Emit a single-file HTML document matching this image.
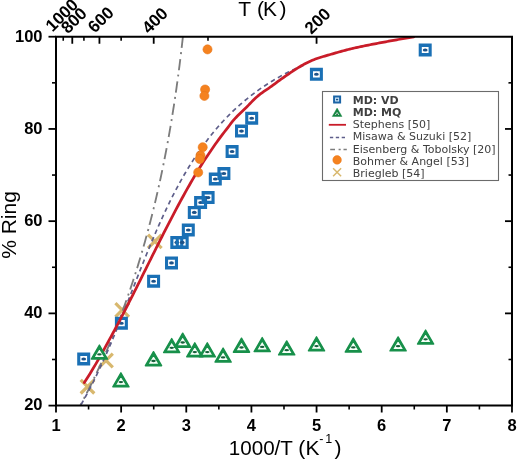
<!DOCTYPE html><html><head><meta charset="utf-8"><title>% Ring vs 1000/T</title><style>html,body{margin:0;padding:0;background:#fff;width:520px;height:461px;overflow:hidden}svg{display:block}</style></head><body><svg width="520" height="461" viewBox="0 0 520 461"><rect width="520" height="461" fill="#ffffff"/><clipPath id="c"><rect x="56.0" y="36.75" width="456.0" height="368.75"/></clipPath><path d="M80.7,379.9 L94.3,393.5 M80.7,393.5 L94.3,379.9" stroke="#d8b86e" stroke-width="3.2" fill="none"/><path d="M99.2,353.7 L112.8,367.3 M99.2,367.3 L112.8,353.7" stroke="#d8b86e" stroke-width="3.2" fill="none"/><path d="M115.4,303.2 L129,316.8 M115.4,316.8 L129,303.2" stroke="#d8b86e" stroke-width="3.2" fill="none"/><path d="M148,234.6 L161.6,248.2 M148,248.2 L161.6,234.6" stroke="#d8b86e" stroke-width="3.2" fill="none"/><path d="M77.2,352.5h13v13h-13ZM80.3,355.9v6.2h6.8v-6.2Z" fill="#1a70b5" fill-rule="evenodd"/><ellipse cx="83.7" cy="359" rx="2.4" ry="1.55" fill="#1d5288"/><path d="M114.9,316.7h13v13h-13ZM118,320.1v6.2h6.8v-6.2Z" fill="#1a70b5" fill-rule="evenodd"/><ellipse cx="121.4" cy="323.2" rx="2.4" ry="1.55" fill="#1d5288"/><path d="M147.1,274.7h13v13h-13ZM150.2,278.1v6.2h6.8v-6.2Z" fill="#1a70b5" fill-rule="evenodd"/><ellipse cx="153.6" cy="281.2" rx="2.4" ry="1.55" fill="#1d5288"/><path d="M165,256.4h13v13h-13ZM168.1,259.8v6.2h6.8v-6.2Z" fill="#1a70b5" fill-rule="evenodd"/><ellipse cx="171.5" cy="262.9" rx="2.4" ry="1.55" fill="#1d5288"/><path d="M170.3,235.9h13v13h-13ZM173.4,239.3v6.2h6.8v-6.2Z" fill="#1a70b5" fill-rule="evenodd"/><ellipse cx="176.8" cy="242.4" rx="2.4" ry="1.55" fill="#1d5288"/><path d="M175.7,235.9h13v13h-13ZM178.8,239.3v6.2h6.8v-6.2Z" fill="#1a70b5" fill-rule="evenodd"/><ellipse cx="182.2" cy="242.4" rx="2.4" ry="1.55" fill="#1d5288"/><path d="M181.8,223.5h13v13h-13ZM184.9,226.9v6.2h6.8v-6.2Z" fill="#1a70b5" fill-rule="evenodd"/><ellipse cx="188.3" cy="230" rx="2.4" ry="1.55" fill="#1d5288"/><path d="M187.8,205.9h13v13h-13ZM190.9,209.3v6.2h6.8v-6.2Z" fill="#1a70b5" fill-rule="evenodd"/><ellipse cx="194.3" cy="212.4" rx="2.4" ry="1.55" fill="#1d5288"/><path d="M194.1,196h13v13h-13ZM197.2,199.4v6.2h6.8v-6.2Z" fill="#1a70b5" fill-rule="evenodd"/><ellipse cx="200.6" cy="202.5" rx="2.4" ry="1.55" fill="#1d5288"/><path d="M201.6,191.1h13v13h-13ZM204.7,194.5v6.2h6.8v-6.2Z" fill="#1a70b5" fill-rule="evenodd"/><ellipse cx="208.1" cy="197.6" rx="2.4" ry="1.55" fill="#1d5288"/><path d="M208.8,172.5h13v13h-13ZM211.9,175.9v6.2h6.8v-6.2Z" fill="#1a70b5" fill-rule="evenodd"/><ellipse cx="215.3" cy="179" rx="2.4" ry="1.55" fill="#1d5288"/><path d="M217.4,167h13v13h-13ZM220.5,170.4v6.2h6.8v-6.2Z" fill="#1a70b5" fill-rule="evenodd"/><ellipse cx="223.9" cy="173.5" rx="2.4" ry="1.55" fill="#1d5288"/><path d="M225.6,145h13v13h-13ZM228.7,148.4v6.2h6.8v-6.2Z" fill="#1a70b5" fill-rule="evenodd"/><ellipse cx="232.1" cy="151.5" rx="2.4" ry="1.55" fill="#1d5288"/><path d="M235,124.6h13v13h-13ZM238.1,128v6.2h6.8v-6.2Z" fill="#1a70b5" fill-rule="evenodd"/><ellipse cx="241.5" cy="131.1" rx="2.4" ry="1.55" fill="#1d5288"/><path d="M245.2,111.7h13v13h-13ZM248.3,115.1v6.2h6.8v-6.2Z" fill="#1a70b5" fill-rule="evenodd"/><ellipse cx="251.7" cy="118.2" rx="2.4" ry="1.55" fill="#1d5288"/><path d="M309.9,67.8h13v13h-13ZM313,71.2v6.2h6.8v-6.2Z" fill="#1a70b5" fill-rule="evenodd"/><ellipse cx="316.4" cy="74.3" rx="2.4" ry="1.55" fill="#1d5288"/><path d="M418.7,43.5h13v13h-13ZM421.8,46.9v6.2h6.8v-6.2Z" fill="#1a70b5" fill-rule="evenodd"/><ellipse cx="425.2" cy="50" rx="2.4" ry="1.55" fill="#1d5288"/><g clip-path="url(#c)" fill="none" stroke-linecap="butt"><polyline points="182.89,36.79 182.63,39.18 182.36,41.58 182.09,43.98 181.82,46.38 181.54,48.77 181.26,51.17 180.97,53.57 180.68,55.97 180.39,58.37 180.1,60.76 179.8,63.16 179.5,65.56 179.19,67.96 178.88,70.35 178.57,72.75 178.25,75.15 177.93,77.54 177.6,79.94 177.28,82.34 176.94,84.73 176.61,87.13 176.27,89.52 175.92,91.92 175.57,94.31 175.22,96.71 174.87,99.1 174.51,101.49 174.14,103.89 173.77,106.28 173.4,108.67 173.02,111.06 172.64,113.45 172.26,115.84 171.87,118.23 171.48,120.62 171.08,123.01 170.68,125.4 170.27,127.79 169.86,130.17 169.44,132.56 169.02,134.94 168.6,137.33 168.17,139.71 167.74,142.09 167.3,144.48 166.86,146.86 166.41,149.24 165.96,151.62 165.5,153.99 165.04,156.37 164.57,158.75 164.1,161.12 163.63,163.5 163.15,165.87 162.66,168.25 162.17,170.62 161.68,172.99 161.18,175.36 160.68,177.72 160.17,180.09 159.65,182.46 159.13,184.82 158.61,187.19 158.08,189.55 157.54,191.91 157,194.27 156.46,196.63 155.91,198.99 155.35,201.34 154.79,203.7 154.23,206.05 153.66,208.4 153.08,210.75 152.5,213.1 151.91,215.45 151.32,217.79 150.72,220.14 150.11,222.48 149.51,224.82 148.89,227.16 148.27,229.5 147.64,231.84 147.01,234.17 146.38,236.5 145.73,238.84 145.08,241.17 144.43,243.49 143.77,245.82 143.1,248.14 142.43,250.47 141.76,252.79 141.07,255.11 140.38,257.42 139.69,259.74 138.99,262.05 138.28,264.37 137.57,266.68 136.85,268.98 136.12,271.29 135.39,273.59 134.65,275.89 133.91,278.19 133.16,280.49 132.4,282.79 131.64,285.08 130.87,287.37 130.1,289.66 129.32,291.95 128.53,294.23 127.74,296.51 126.94,298.79 126.13,301.07 125.32,303.35 124.5,305.62 123.67,307.89 122.84,310.16 122,312.43 121.16,314.69 120.3,316.95 119.44,319.21 118.58,321.47 117.71,323.72 116.83,325.97 115.94,328.22 115.05,330.47 114.15,332.71 113.24,334.96 112.33,337.19 111.41,339.43 110.48,341.66 109.55,343.89 108.61,346.12 107.66,348.35 106.7,350.57 105.74,352.79 104.77,355.01 103.8,357.22 102.81,359.43 101.82,361.64 100.83,363.85 99.82,366.05 98.81,368.25 97.79,370.45 96.76,372.64 95.73,374.83 94.68,377.02 93.64,379.2 92.58,381.39 91.52,383.56 90.44,385.74 89.36,387.91 88.28,390.08 87.18,392.25 86.08,394.41 84.97,396.57 83.86,398.73 82.73,400.88 81.6,403.03 80.46,405.18" stroke="#7c7c7c" stroke-width="1.85" stroke-dasharray="11.2 4.3 2 5"/><polyline points="81,404.68 82.27,402.46 83.53,400.22 84.77,397.98 86.01,395.72 87.23,393.46 88.44,391.19 89.64,388.91 90.82,386.62 92,384.32 93.17,382.01 94.32,379.69 95.47,377.37 96.6,375.03 97.73,372.69 98.85,370.34 99.95,367.99 101.05,365.63 102.14,363.26 103.23,360.88 104.3,358.5 105.37,356.11 106.43,353.71 107.49,351.31 108.53,348.9 109.57,346.49 110.61,344.07 111.64,341.65 112.66,339.22 113.68,336.78 114.7,334.34 115.7,331.9 116.71,329.45 117.71,327 118.71,324.55 119.7,322.09 120.69,319.62 121.68,317.16 122.66,314.69 123.65,312.22 124.63,309.74 125.61,307.27 126.58,304.79 127.56,302.3 128.53,299.82 129.51,297.33 130.48,294.85 131.46,292.36 132.43,289.87 133.41,287.38 134.38,284.88 135.36,282.39 136.34,279.9 137.32,277.41 138.3,274.91 139.29,272.42 140.27,269.93 141.26,267.43 142.26,264.94 143.25,262.45 144.25,259.96 145.26,257.48 146.26,254.99 147.28,252.5 148.29,250.02 149.32,247.54 150.34,245.06 151.38,242.59 152.42,240.11 153.46,237.65 154.52,235.18 155.57,232.72 156.64,230.26 157.71,227.81 158.8,225.36 159.89,222.92 160.98,220.48 162.09,218.05 163.2,215.62 164.33,213.2 165.46,210.79 166.6,208.38 167.76,205.98 168.92,203.59 170.09,201.2 171.28,198.83 172.47,196.46 173.68,194.1 174.9,191.74 176.13,189.4 177.37,187.07 178.63,184.74 179.9,182.43 181.18,180.12 182.47,177.83 183.78,175.54 185.1,173.27 186.44,171 187.79,168.75 189.16,166.51 190.54,164.29 191.94,162.07 193.35,159.87 194.78,157.68 196.22,155.5 197.68,153.34 199.16,151.19 200.65,149.05 202.16,146.93 203.69,144.82 205.24,142.73 206.81,140.65 208.39,138.59 210,136.54 211.62,134.51 213.26,132.49 214.92,130.49 216.6,128.51 218.3,126.55 220.03,124.6 221.77,122.67 223.53,120.75 225.32,118.86 227.12,116.98 228.95,115.12 230.8,113.28 232.68,111.46 234.57,109.66 236.49,107.88 238.43,106.12 240.39,104.38 242.37,102.66 244.38,100.96 246.4,99.28 248.45,97.63 250.52,95.99 252.61,94.38 254.72,92.79 256.86,91.22 259.01,89.68 261.19,88.16 263.38,86.66 265.6,85.19 267.84,83.74 270.1,82.31 272.39,80.91 274.69,79.54 277.02,78.19 279.36,76.87 281.73,75.57 284.11,74.3 286.52,73.05 288.95,71.83 291.4,70.64 293.87,69.48 296.36,68.34 298.87,67.24 301.4,66.16 303.96,65.11 306.53,64.09" stroke="#5e5e8a" stroke-width="1.7" stroke-dasharray="4.6 3.5"/><polyline points="84.36,382.58 86.13,379.81 87.9,377 89.67,374.15 91.44,371.26 93.21,368.32 94.97,365.35 96.74,362.33 98.51,359.27 100.27,356.18 102.04,353.05 103.8,349.87 105.56,346.67 107.33,343.43 109.09,340.15 110.91,336.84 112.73,333.5 114.55,330.13 116.37,326.72 118.19,323.3 120.01,319.84 121.83,316.36 123.65,312.85 125.47,309.33 127.29,305.78 129.11,302.22 130.93,298.63 132.75,295.03 134.57,291.42 136.39,287.8 138.21,284.16 140.03,280.52 141.85,276.87 143.67,273.22 145.49,269.56 147.31,265.9 149.13,262.24 150.95,258.59 152.77,254.93 154.59,251.29 156.41,247.65 158.23,244.03 160.05,240.41 161.87,236.81 163.69,233.22 165.52,229.65 167.34,226.1 169.16,222.57 170.98,219.06 172.8,215.57 174.62,212.11 176.44,208.67 178.26,205.26 180.08,201.88 181.9,198.53 183.72,195.22 185.54,191.93 187.36,188.68 189.18,185.47 191,182.29 192.82,179.14 194.64,176.04 196.46,172.97 198.28,169.94 200.15,166.96 202.02,164.01 203.88,161.11 205.75,158.25 207.62,155.43 209.48,152.65 211.34,149.92 213.21,147.23 215.07,144.58 216.93,141.98 218.79,139.43 220.65,136.92 222.51,134.45 224.37,132.03 226.23,129.65 228,127.31 229.56,125.2 231.12,123.13 232.68,121.16 234.25,119.36 235.81,117.67 237.37,116.06 238.93,114.51 240.49,113 242.05,111.51 243.61,110.02 245.17,108.51 246.74,106.96 248.3,105.38 249.86,103.77 251.42,102.16 252.98,100.57 254.54,99.03 256.1,97.55 257.67,96.17 259.23,94.89 260.79,93.7 262.35,92.57 263.91,91.46 265.47,90.37 267.03,89.32 268.59,88.27 270.16,87.19 271.72,86.07 273.28,84.93 274.84,83.78 276.4,82.62 277.96,81.47 279.52,80.32 281.09,79.19 282.65,78.09 284.21,77 285.77,75.92 287.33,74.85 288.89,73.79 290.45,72.73 292.02,71.67 293.58,70.61 295.14,69.57 296.7,68.59 298.26,67.64 299.82,66.7 301.38,65.78 302.94,64.89 304.51,64.03 306.07,63.21 307.63,62.43 309.19,61.7 310.75,60.99 312.31,60.32 313.87,59.68 315.44,59.08 317,58.52 318.56,57.99 320.12,57.49 321.68,57 323.24,56.54 324.8,56.08 326.36,55.64 327.93,55.19 329.49,54.75 331.05,54.3 332.61,53.84 334.17,53.39 335.73,52.94 337.29,52.49 338.86,52.04 340.42,51.6 341.98,51.17 343.54,50.74 345.1,50.31 346.66,49.9 348.22,49.5 349.78,49.11 351.35,48.73 352.91,48.36 354.47,48 356.03,47.65 357.59,47.31 359.15,46.97 360.71,46.64 362.28,46.31 363.84,45.99 365.4,45.68 366.96,45.37 368.52,45.06 370.08,44.76 371.64,44.46 373.21,44.16 374.77,43.86 376.33,43.56 377.89,43.27 379.45,42.97 381.01,42.68 382.57,42.38 384.13,42.08 385.7,41.79 387.26,41.5 388.82,41.21 390.38,40.93 391.94,40.64 393.5,40.36 395.06,40.08 396.63,39.8 398.19,39.52 399.75,39.24 401.31,38.97 402.87,38.69 404.43,38.42 405.99,38.14 407.55,37.87 409.12,37.6 410.68,37.33 412.24,37.07 413.8,36.8" stroke="#c91c29" stroke-width="2.75" stroke-linejoin="round" stroke-linecap="round"/></g><path d="M99.4,348.1L93.4,357.9L105.4,357.9Z" fill="#f6fff8"/><path d="M99.4,345.1L107.5,359.1L91.3,359.1ZM99.4,348.2L93.5,357.8L105.3,357.8Z" fill="#17904a" fill-rule="evenodd" stroke="#17904a" stroke-width="1.4" stroke-linejoin="round"/><ellipse cx="99.4" cy="354.4" rx="2.3" ry="1.15" fill="#16603a"/><path d="M120.9,375.8L114.9,385.6L126.9,385.6Z" fill="#f6fff8"/><path d="M120.9,372.8L129,386.8L112.8,386.8ZM120.9,375.9L115,385.5L126.8,385.5Z" fill="#17904a" fill-rule="evenodd" stroke="#17904a" stroke-width="1.4" stroke-linejoin="round"/><ellipse cx="120.9" cy="382.1" rx="2.3" ry="1.15" fill="#16603a"/><path d="M153.5,354.7L147.5,364.5L159.5,364.5Z" fill="#f6fff8"/><path d="M153.5,351.7L161.6,365.7L145.4,365.7ZM153.5,354.8L147.6,364.4L159.4,364.4Z" fill="#17904a" fill-rule="evenodd" stroke="#17904a" stroke-width="1.4" stroke-linejoin="round"/><ellipse cx="153.5" cy="361" rx="2.3" ry="1.15" fill="#16603a"/><path d="M171.7,341.5L165.7,351.3L177.7,351.3Z" fill="#f6fff8"/><path d="M171.7,338.5L179.8,352.5L163.6,352.5ZM171.7,341.6L165.8,351.2L177.6,351.2Z" fill="#17904a" fill-rule="evenodd" stroke="#17904a" stroke-width="1.4" stroke-linejoin="round"/><ellipse cx="171.7" cy="347.8" rx="2.3" ry="1.15" fill="#16603a"/><path d="M182.7,336.2L176.7,346L188.7,346Z" fill="#f6fff8"/><path d="M182.7,333.2L190.8,347.2L174.6,347.2ZM182.7,336.3L176.8,345.9L188.6,345.9Z" fill="#17904a" fill-rule="evenodd" stroke="#17904a" stroke-width="1.4" stroke-linejoin="round"/><ellipse cx="182.7" cy="342.5" rx="2.3" ry="1.15" fill="#16603a"/><path d="M194.8,345.8L188.8,355.6L200.8,355.6Z" fill="#f6fff8"/><path d="M194.8,342.8L202.9,356.8L186.7,356.8ZM194.8,345.9L188.9,355.5L200.7,355.5Z" fill="#17904a" fill-rule="evenodd" stroke="#17904a" stroke-width="1.4" stroke-linejoin="round"/><ellipse cx="194.8" cy="352.1" rx="2.3" ry="1.15" fill="#16603a"/><path d="M207.3,345.8L201.3,355.6L213.3,355.6Z" fill="#f6fff8"/><path d="M207.3,342.8L215.4,356.8L199.2,356.8ZM207.3,345.9L201.4,355.5L213.2,355.5Z" fill="#17904a" fill-rule="evenodd" stroke="#17904a" stroke-width="1.4" stroke-linejoin="round"/><ellipse cx="207.3" cy="352.1" rx="2.3" ry="1.15" fill="#16603a"/><path d="M223.1,351.1L217.1,360.9L229.1,360.9Z" fill="#f6fff8"/><path d="M223.1,348.1L231.2,362.1L215,362.1ZM223.1,351.2L217.2,360.8L229,360.8Z" fill="#17904a" fill-rule="evenodd" stroke="#17904a" stroke-width="1.4" stroke-linejoin="round"/><ellipse cx="223.1" cy="357.4" rx="2.3" ry="1.15" fill="#16603a"/><path d="M241.5,341.2L235.5,351L247.5,351Z" fill="#f6fff8"/><path d="M241.5,338.2L249.6,352.2L233.4,352.2ZM241.5,341.3L235.6,350.9L247.4,350.9Z" fill="#17904a" fill-rule="evenodd" stroke="#17904a" stroke-width="1.4" stroke-linejoin="round"/><ellipse cx="241.5" cy="347.5" rx="2.3" ry="1.15" fill="#16603a"/><path d="M262.2,340.6L256.2,350.4L268.2,350.4Z" fill="#f6fff8"/><path d="M262.2,337.6L270.3,351.6L254.1,351.6ZM262.2,340.7L256.3,350.3L268.1,350.3Z" fill="#17904a" fill-rule="evenodd" stroke="#17904a" stroke-width="1.4" stroke-linejoin="round"/><ellipse cx="262.2" cy="346.9" rx="2.3" ry="1.15" fill="#16603a"/><path d="M286.7,343.9L280.7,353.7L292.7,353.7Z" fill="#f6fff8"/><path d="M286.7,340.9L294.8,354.9L278.6,354.9ZM286.7,344L280.8,353.6L292.6,353.6Z" fill="#17904a" fill-rule="evenodd" stroke="#17904a" stroke-width="1.4" stroke-linejoin="round"/><ellipse cx="286.7" cy="350.2" rx="2.3" ry="1.15" fill="#16603a"/><path d="M316.5,339.8L310.5,349.6L322.5,349.6Z" fill="#f6fff8"/><path d="M316.5,336.8L324.6,350.8L308.4,350.8ZM316.5,339.9L310.6,349.5L322.4,349.5Z" fill="#17904a" fill-rule="evenodd" stroke="#17904a" stroke-width="1.4" stroke-linejoin="round"/><ellipse cx="316.5" cy="346.1" rx="2.3" ry="1.15" fill="#16603a"/><path d="M353.3,341.1L347.3,350.9L359.3,350.9Z" fill="#f6fff8"/><path d="M353.3,338.1L361.4,352.1L345.2,352.1ZM353.3,341.2L347.4,350.8L359.2,350.8Z" fill="#17904a" fill-rule="evenodd" stroke="#17904a" stroke-width="1.4" stroke-linejoin="round"/><ellipse cx="353.3" cy="347.4" rx="2.3" ry="1.15" fill="#16603a"/><path d="M398.1,339.9L392.1,349.7L404.1,349.7Z" fill="#f6fff8"/><path d="M398.1,336.9L406.2,350.9L390,350.9ZM398.1,340L392.2,349.6L404,349.6Z" fill="#17904a" fill-rule="evenodd" stroke="#17904a" stroke-width="1.4" stroke-linejoin="round"/><ellipse cx="398.1" cy="346.2" rx="2.3" ry="1.15" fill="#16603a"/><path d="M425.6,333L419.6,342.8L431.6,342.8Z" fill="#f6fff8"/><path d="M425.6,330L433.7,344L417.5,344ZM425.6,333.1L419.7,342.7L431.5,342.7Z" fill="#17904a" fill-rule="evenodd" stroke="#17904a" stroke-width="1.4" stroke-linejoin="round"/><ellipse cx="425.6" cy="339.3" rx="2.3" ry="1.15" fill="#16603a"/><circle cx="207.5" cy="49.4" r="4.55" fill="#f5821f" stroke="#e87618" stroke-width="0.6"/><circle cx="205.1" cy="89.5" r="4.55" fill="#f5821f" stroke="#e87618" stroke-width="0.6"/><circle cx="204.4" cy="95.9" r="4.55" fill="#f5821f" stroke="#e87618" stroke-width="0.6"/><circle cx="202.7" cy="147.2" r="4.55" fill="#f5821f" stroke="#e87618" stroke-width="0.6"/><circle cx="200.5" cy="155.5" r="4.55" fill="#f5821f" stroke="#e87618" stroke-width="0.6"/><circle cx="199.8" cy="159" r="4.55" fill="#f5821f" stroke="#e87618" stroke-width="0.6"/><circle cx="198.2" cy="172.4" r="4.55" fill="#f5821f" stroke="#e87618" stroke-width="0.6"/><g stroke="#000" fill="none"><rect x="56.0" y="36.75" width="456.0" height="368.75" stroke-width="2"/><line x1="56" y1="405.5" x2="56" y2="412.5" stroke-width="1.8"/><line x1="121.14" y1="405.5" x2="121.14" y2="412.5" stroke-width="1.8"/><line x1="186.28" y1="405.5" x2="186.28" y2="412.5" stroke-width="1.8"/><line x1="251.42" y1="405.5" x2="251.42" y2="412.5" stroke-width="1.8"/><line x1="316.56" y1="405.5" x2="316.56" y2="412.5" stroke-width="1.8"/><line x1="381.7" y1="405.5" x2="381.7" y2="412.5" stroke-width="1.8"/><line x1="446.84" y1="405.5" x2="446.84" y2="412.5" stroke-width="1.8"/><line x1="511.98" y1="405.5" x2="511.98" y2="412.5" stroke-width="1.8"/><line x1="88.57" y1="405.5" x2="88.57" y2="409.5" stroke-width="1.6"/><line x1="153.71" y1="405.5" x2="153.71" y2="409.5" stroke-width="1.6"/><line x1="218.85" y1="405.5" x2="218.85" y2="409.5" stroke-width="1.6"/><line x1="283.99" y1="405.5" x2="283.99" y2="409.5" stroke-width="1.6"/><line x1="349.13" y1="405.5" x2="349.13" y2="409.5" stroke-width="1.6"/><line x1="414.27" y1="405.5" x2="414.27" y2="409.5" stroke-width="1.6"/><line x1="479.41" y1="405.5" x2="479.41" y2="409.5" stroke-width="1.6"/><line x1="48.5" y1="405.6" x2="56.0" y2="405.6" stroke-width="1.8"/><line x1="48.5" y1="313.38" x2="56.0" y2="313.38" stroke-width="1.8"/><line x1="505.0" y1="313.38" x2="512.0" y2="313.38" stroke-width="1.8"/><line x1="48.5" y1="221.16" x2="56.0" y2="221.16" stroke-width="1.8"/><line x1="505.0" y1="221.16" x2="512.0" y2="221.16" stroke-width="1.8"/><line x1="48.5" y1="128.94" x2="56.0" y2="128.94" stroke-width="1.8"/><line x1="505.0" y1="128.94" x2="512.0" y2="128.94" stroke-width="1.8"/><line x1="48.5" y1="36.72" x2="56.0" y2="36.72" stroke-width="1.8"/><line x1="52.0" y1="359.49" x2="56.0" y2="359.49" stroke-width="1.6"/><line x1="508.5" y1="359.49" x2="512.0" y2="359.49" stroke-width="1.6"/><line x1="52.0" y1="267.27" x2="56.0" y2="267.27" stroke-width="1.6"/><line x1="508.5" y1="267.27" x2="512.0" y2="267.27" stroke-width="1.6"/><line x1="52.0" y1="175.05" x2="56.0" y2="175.05" stroke-width="1.6"/><line x1="508.5" y1="175.05" x2="512.0" y2="175.05" stroke-width="1.6"/><line x1="52.0" y1="82.83" x2="56.0" y2="82.83" stroke-width="1.6"/><line x1="508.5" y1="82.83" x2="512.0" y2="82.83" stroke-width="1.6"/><line x1="56" y1="36.75" x2="56" y2="43.75" stroke-width="1.8"/><line x1="72.28" y1="36.75" x2="72.28" y2="43.75" stroke-width="1.8"/><line x1="99.43" y1="36.75" x2="99.43" y2="43.75" stroke-width="1.8"/><line x1="153.71" y1="36.75" x2="153.71" y2="43.75" stroke-width="1.8"/><line x1="316.56" y1="36.75" x2="316.56" y2="43.75" stroke-width="1.8"/><line x1="63.24" y1="36.75" x2="63.24" y2="40.75" stroke-width="1.6"/><line x1="83.92" y1="36.75" x2="83.92" y2="40.75" stroke-width="1.6"/><line x1="121.14" y1="36.75" x2="121.14" y2="40.75" stroke-width="1.6"/><line x1="207.99" y1="36.75" x2="207.99" y2="40.75" stroke-width="1.6"/></g><g font-family="Liberation Sans, Arial, sans-serif" font-weight="bold" font-size="16.5" fill="#000"><text x="42.5" y="410.4" text-anchor="end">20</text><text x="42.5" y="318.18" text-anchor="end">40</text><text x="42.5" y="225.96" text-anchor="end">60</text><text x="42.5" y="133.74" text-anchor="end">80</text><text x="42.5" y="41.52" text-anchor="end">100</text><text x="56" y="431.3" text-anchor="middle">1</text><text x="121.14" y="431.3" text-anchor="middle">2</text><text x="186.28" y="431.3" text-anchor="middle">3</text><text x="251.42" y="431.3" text-anchor="middle">4</text><text x="316.56" y="431.3" text-anchor="middle">5</text><text x="381.7" y="431.3" text-anchor="middle">6</text><text x="446.84" y="431.3" text-anchor="middle">7</text><text x="511.98" y="431.3" text-anchor="middle">8</text></g><g font-family="Liberation Sans, Arial, sans-serif" font-weight="bold" font-size="17" fill="#000"><text transform="translate(52.5,32.5) rotate(-45)" x="0" y="0">1000</text><text transform="translate(67.9,34.5) rotate(-45)" x="0" y="0">800</text><text transform="translate(94.8,33.8) rotate(-45)" x="0" y="0">600</text><text transform="translate(148.9,34.5) rotate(-45)" x="0" y="0">400</text><text transform="translate(311.6,35) rotate(-45)" x="0" y="0">200</text></g><g font-family="Liberation Sans, Arial, sans-serif" font-size="21" fill="#000"><text y="16.2"><tspan x="238.3">T </tspan><tspan x="257">(</tspan><tspan x="263">K</tspan><tspan x="279.5">)</tspan></text><text transform="translate(16,258.8) rotate(-90)">% Ring</text><text y="455.2"><tspan x="228.8" font-size="20.6">1000/T </tspan><tspan x="298.2">(</tspan><tspan x="305.6">K</tspan><tspan x="319.2" y="443.1" font-size="12.5">-</tspan><tspan x="325.2" y="443.3" font-size="12.5">1</tspan><tspan x="334.6" y="455.2">)</tspan></text></g><rect x="322.5" y="91.5" width="176.0" height="89.0" fill="#fff" stroke="#6b6b6b" stroke-width="1.1"/><g font-family="DejaVu Sans, Verdana, sans-serif" font-size="11" fill="#404040"><text x="352.8" y="103.8" font-weight="bold">MD: VD</text><text x="352.8" y="116" font-weight="bold">MD: MQ</text><text x="352.8" y="128.2">Stephens [50]</text><text x="352.8" y="140.4">Misawa &amp; Suzuki [52]</text><text x="352.8" y="152.6">Eisenberg &amp; Tobolsky [20]</text><text x="352.8" y="164.8">Bohmer &amp; Angel [53]</text><text x="352.8" y="177">Briegleb [54]</text></g><rect x="333.1" y="95.5" width="8" height="8" fill="#1b64a6"/><rect x="335.1" y="97.5" width="4" height="4" fill="#cfe8fa"/><rect x="336" y="98.8" width="2.2" height="1.5" fill="#1d5288"/><path d="M337.1,108.1 L342,116.5 L332.2,116.5 Z" fill="#158540" stroke="#158540" stroke-width="0.4" stroke-linejoin="round"/><path d="M337.1,111.9 L339.3,115.1 L334.9,115.1 Z" fill="#dff5e6"/><ellipse cx="337.1" cy="114.2" rx="1.1" ry="0.7" fill="#16603a"/><line x1="328.8" y1="124.8" x2="346" y2="124.8" stroke="#c91c29" stroke-width="1.8"/><line x1="329.9" y1="137.6" x2="345" y2="137.6" stroke="#5e5e8a" stroke-width="1.5" stroke-dasharray="3.3 2.6"/><line x1="330.2" y1="149.5" x2="346.8" y2="149.5" stroke="#7c7c7c" stroke-width="1.5" stroke-dasharray="4.8 3.6 2.1 2.8 3.3"/><circle cx="337.1" cy="159.9" r="4.3" fill="#f5821f" stroke="#e87618" stroke-width="0.5"/><path d="M333.1,168.3 L341.1,176.3 M333.1,176.3 L341.1,168.3" stroke="#d8b86e" stroke-width="1.5" fill="none"/></svg></body></html>
